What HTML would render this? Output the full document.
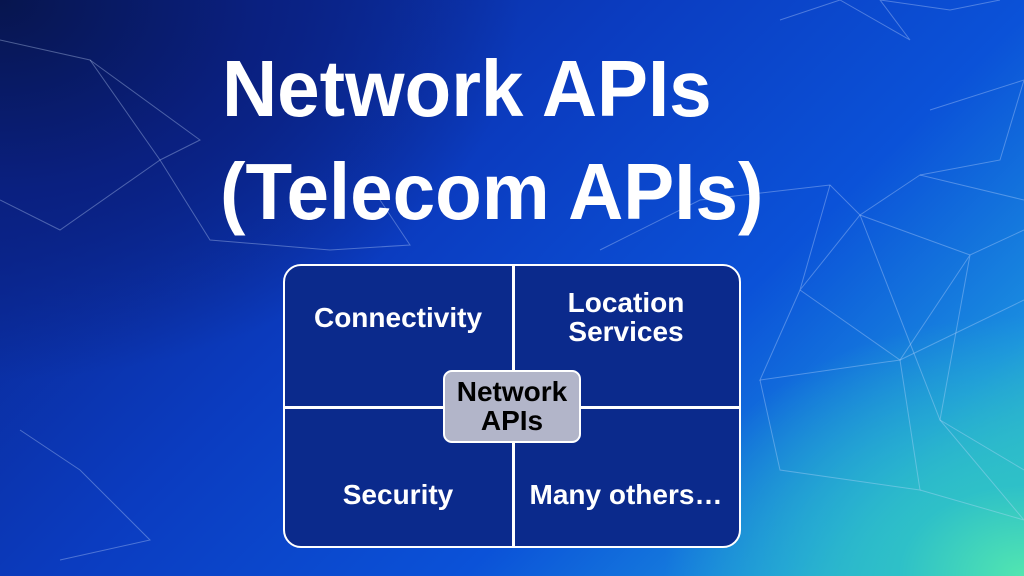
<!DOCTYPE html>
<html><head><style>
html,body{margin:0;padding:0}
body{width:1024px;height:576px;overflow:hidden;position:relative;font-family:"Liberation Sans",sans-serif;
background:
radial-gradient(ellipse 360px 260px at 1024px 576px,#52e6b0 0%,#2ec0c8 35%,rgba(20,110,220,0) 100%),
radial-gradient(ellipse 520px 380px at 0px 0px,#07154e 0%,#0a2080 50%,rgba(10,50,190,0) 100%),
linear-gradient(135deg,#0a1f80 0%,#0b3cc0 40%,#0b52d8 65%,#1a8ee0 85%,#3cd0c0 100%);}
.t{position:absolute;color:#fff;font-weight:bold;font-size:80px;line-height:80px;white-space:nowrap;transform-origin:0 0;transform:scaleX(0.955)}
.box{position:absolute;left:283px;top:264px;width:454px;height:280px;border:2px solid #fff;border-radius:18px;background:#0b2a8c;overflow:hidden}
.vl{position:absolute;left:227px;top:0;width:3px;height:100%;background:#fff}
.hl{position:absolute;top:140px;left:0;height:3px;width:100%;background:#fff}
.lb{position:absolute;color:#fff;font-weight:bold;font-size:28px;text-align:center;line-height:29px}
.c{position:absolute;left:443px;top:370px;background:#b2b5c9;border:2px solid #fff;border-radius:9px;color:#000;font-weight:bold;font-size:28px;text-align:center;line-height:29px;padding-top:5px;box-sizing:border-box;width:138px;height:73px}
</style></head><body>
<svg width="1024" height="576" style="position:absolute;left:0;top:0" stroke="rgba(200,220,255,0.35)" stroke-width="1" fill="none">
<polyline points="0,40 90,60 160,160 60,230 0,200"/>
<polyline points="90,60 200,140 160,160 210,240 330,250 410,245 380,200"/>
<polyline points="20,430 80,470 150,540 60,560"/>
<polyline points="780,20 840,0 910,40 880,0 950,10 1000,0"/>
<polyline points="600,250 700,200 830,185 860,215 920,175 1024,200"/>
<polyline points="830,185 800,290 860,215 970,255 1024,230"/>
<polyline points="800,290 760,380 900,360 970,255 940,420 1024,470"/>
<polyline points="900,360 920,490 780,470 760,380"/>
<polyline points="920,490 1024,520 940,420 860,215"/>
<polyline points="800,290 900,360 1024,300"/>
<polyline points="930,110 1024,80 1000,160 920,175"/>
</svg>
<div class="t" style="top:49px;left:222px">Network APIs</div>
<div class="t" style="top:152px;left:220px">(Telecom APIs)</div>
<div class="box"><div class="vl"></div><div class="hl"></div></div>
<div class="lb" style="left:285px;width:226px;top:303px">Connectivity</div>
<div class="lb" style="left:513px;width:226px;top:288px">Location<br>Services</div>
<div class="lb" style="left:285px;width:226px;top:480px">Security</div>
<div class="lb" style="left:513px;width:226px;top:480px">Many others…</div>
<div class="c">Network<br>APIs</div>
</body></html>
